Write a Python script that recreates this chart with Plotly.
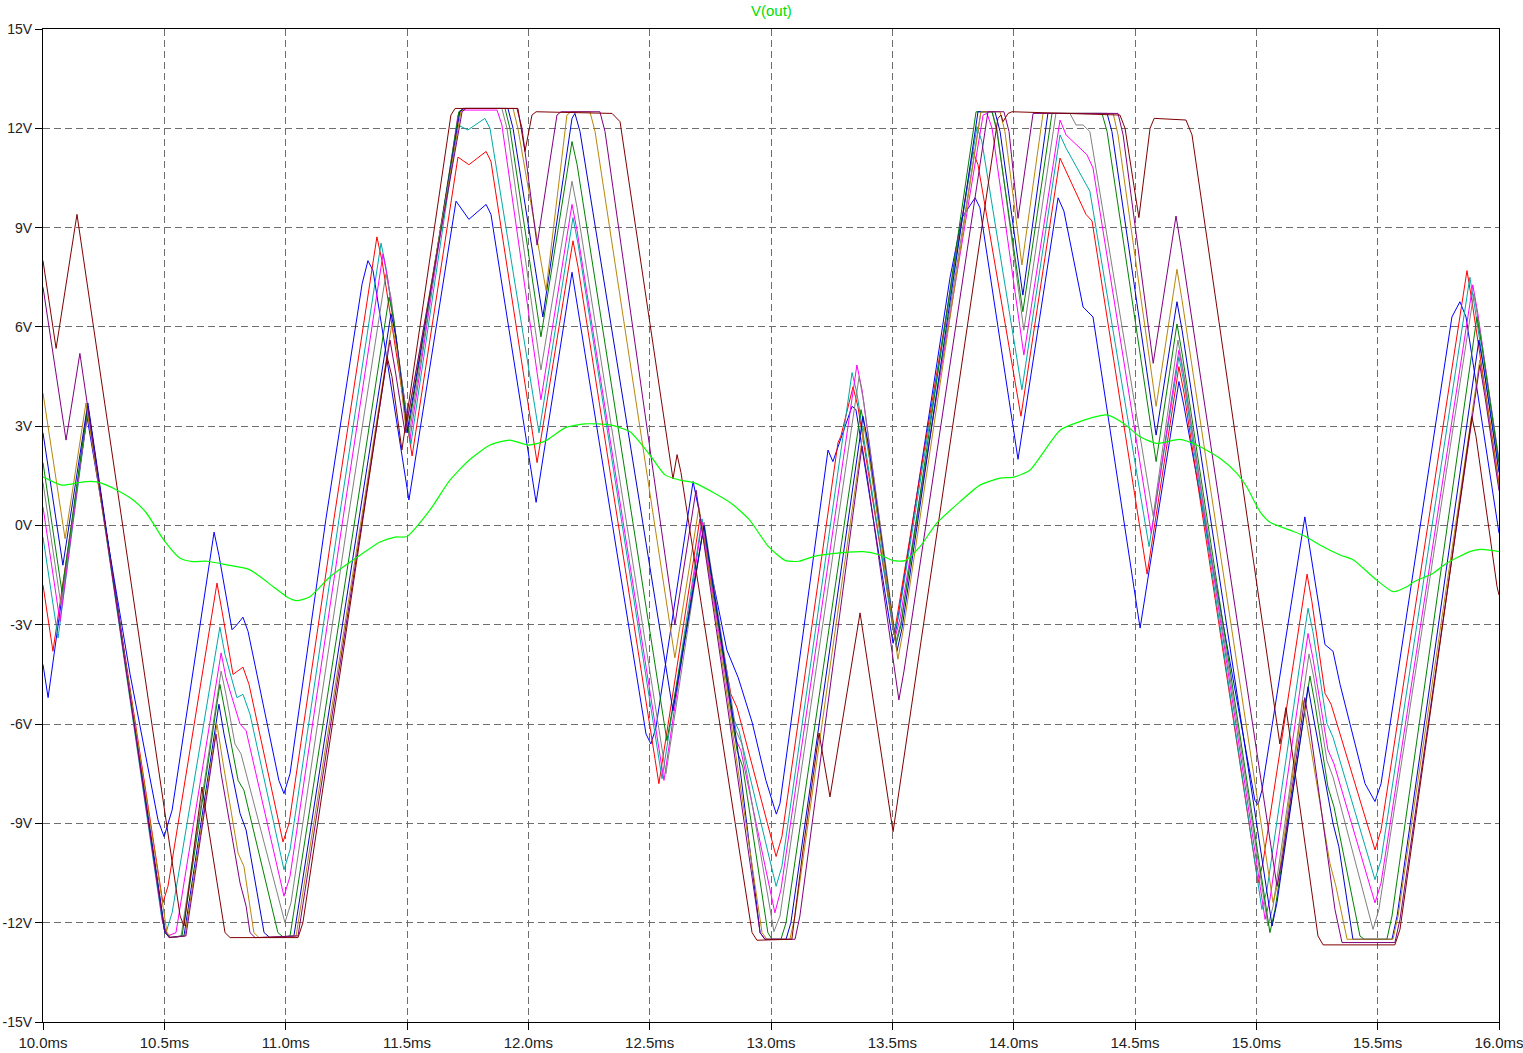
import plotly.graph_objects as go

# ---------------- data (time in ms, voltage in V) ----------------
t_vout = [10.000, 10.077, 10.166, 10.221, 10.262, 10.317, 10.372, 10.427, 10.496, 10.565, 10.619, 10.675, 10.757, 10.853,
          10.949, 11.004, 11.045, 11.100, 11.183, 11.306, 11.389, 11.451, 11.500, 11.595, 11.677, 11.760, 11.842, 11.924,
          12.000, 12.069, 12.151, 12.233, 12.337, 12.419, 12.501, 12.563, 12.625, 12.687, 12.830, 12.909, 12.990, 13.060,
          13.115, 13.174, 13.243, 13.380, 13.449, 13.504, 13.552, 13.614, 13.683, 13.779, 13.861, 13.944, 14.000, 14.067,
          14.129, 14.191, 14.273, 14.383, 14.452, 14.521, 14.589, 14.685, 14.754, 14.850, 14.919, 14.960, 15.015, 15.056,
          15.139, 15.200, 15.262, 15.345, 15.400, 15.496, 15.564, 15.620, 15.650, 15.729, 15.784, 15.880, 15.921, 15.976, 16.000]
v_vout = [1.47, 1.22, 1.32, 1.32, 1.22, 1.02, 0.77, 0.37, -0.42, -0.99, -1.09, -1.08, -1.19, -1.34,
          -1.85, -2.15, -2.27, -2.15, -1.55, -0.90, -0.50, -0.35, -0.33, 0.47, 1.37, 2.00, 2.43, 2.58,
          2.43, 2.55, 2.95, 3.07, 3.04, 2.83, 2.13, 1.53, 1.37, 1.28, 0.70, 0.19, -0.64, -1.06,
          -1.08, -0.94, -0.86, -0.79, -0.89, -1.06, -1.06, -0.64, 0.07, 0.72, 1.22, 1.43, 1.46, 1.67,
          2.28, 2.88, 3.14, 3.34, 3.09, 2.68, 2.48, 2.60, 2.43, 2.03, 1.58, 1.17, 0.42, 0.10,
          -0.14, -0.32, -0.59, -0.89, -1.04, -1.65, -2.00, -1.85, -1.70, -1.44, -1.14, -0.79, -0.72, -0.76, -0.79]

t_blue1 = [10.000, 10.021, 10.181, 10.359, 10.474, 10.499, 10.532, 10.705, 10.725, 10.779, 10.799, 10.824, 10.845, 10.972,
           10.993, 11.018, 11.166, 11.315, 11.339, 11.360, 11.508, 11.702, 11.755, 11.826, 11.846, 12.032, 12.180, 12.485,
           12.505, 12.526, 12.679, 12.818, 12.865, 12.922, 12.979, 13.022, 13.037, 13.235, 13.255, 13.334, 13.350, 13.503,
           13.519, 13.738, 13.787, 13.841, 13.861, 14.018, 14.183, 14.207, 14.286, 14.327, 14.521, 14.681, 14.702, 14.994,
           15.007, 15.023, 15.200, 15.283, 15.316, 15.345, 15.448, 15.489, 15.514, 15.806, 15.839, 15.864, 16.000]
v_blue1 = [-4.2, -5.2, 3.3, -4.5, -8.9, -9.4, -8.6, -0.2, -0.9, -3.15, -3.0, -2.77, -3.2, -7.7,
           -8.1, -7.5, 0.2, 7.3, 8.0, 7.7, 0.77, 9.8, 9.25, 9.7, 9.4, 0.7, 7.65, -6.3,
           -6.6, -6.1, 1.33, -3.76, -4.6, -5.94, -7.7, -8.72, -8.4, 2.28, 1.93, 3.6, 3.5, -3.56,
           -3.0, 7.5, 9.3, 9.9, 9.6, 2.0, 9.9, 9.5, 6.6, 6.3, -3.1, 4.35, 3.6, -8.3,
           -8.44, -8.0, 0.26, -3.6, -3.8, -4.8, -7.8, -8.34, -7.8, 6.3, 6.76, 6.3, -0.23]

t_red = [10.000, 10.041, 10.185, 10.494, 10.515, 10.717, 10.738, 10.783, 10.824, 10.849, 10.989, 11.014, 11.199, 11.376,
         11.397, 11.521, 11.710, 11.755, 11.826, 11.846, 12.036, 12.184, 12.205, 12.538, 12.707, 12.835, 12.860, 13.021,
         13.045, 13.276, 13.288, 13.338, 13.358, 13.507, 13.523, 13.832, 13.853, 14.030, 14.191, 14.216, 14.298, 14.323,
         14.550, 14.681, 14.702, 15.007, 15.027, 15.209, 15.229, 15.283, 15.308, 15.489, 15.514, 15.868, 15.888, 16.000]
v_red = [-1.8, -3.8, 3.4, -11.4, -10.9, -1.74, -2.6, -4.5, -4.28, -4.8, -9.56, -9.0, 0.2, 8.72,
         8.0, 2.1, 11.13, 10.9, 11.3, 11.0, 1.9, 8.6, 7.8, -7.8, 0.2, -5.1, -5.5, -10.0,
         -9.4, 2.5, 2.7, 4.19, 3.6, -3.3, -2.6, 11.3, 10.9, 3.3, 11.1, 10.7, 9.4, 9.2,
         -1.47, 4.8, 4.0, -10.8, -10.2, -1.47, -2.3, -5.07, -5.4, -9.8, -9.2, 7.7, 6.8, 1.3]

t_teal = [10.000, 10.062, 10.185, 10.490, 10.507, 10.532, 10.729, 10.750, 10.799, 10.824, 10.853, 10.993, 11.018, 11.220,
          11.393, 11.413, 11.516, 11.710, 11.751, 11.821, 11.842, 12.044, 12.184, 12.205, 12.551, 12.716, 12.843, 12.868,
          13.021, 13.045, 13.334, 13.354, 13.507, 13.527, 13.849, 13.869, 14.034, 14.191, 14.216, 14.286, 14.314, 14.558,
          14.681, 14.702, 15.023, 15.044, 15.213, 15.233, 15.291, 15.316, 15.489, 15.514, 15.880, 15.900, 16.000]
v_teal = [-0.35, -3.4, 3.5, -11.9, -12.3, -11.7, -3.07, -3.9, -5.2, -5.1, -5.7, -10.4, -9.8, 0.2,
          8.53, 7.8, 2.45, 12.1, 11.95, 12.3, 12.0, 2.8, 9.3, 8.5, -7.65, 0.2, -5.8, -6.2,
          -10.9, -10.3, 4.62, 4.0, -3.3, -2.7, 12.05, 11.6, 4.1, 11.8, 11.4, 10.5, 10.1, -0.64,
          5.1, 4.3, -11.6, -11.0, -2.5, -3.2, -5.98, -6.4, -10.7, -10.1, 7.5, 6.6, 1.7]

t_magenta = [10.000, 10.070, 10.185, 10.494, 10.515, 10.548, 10.734, 10.754, 10.812, 10.837, 10.993, 11.018, 11.236, 11.401,
             11.422, 11.512, 11.710, 11.727, 11.871, 11.891, 12.052, 12.180, 12.201, 12.559, 12.716, 12.851, 12.876, 13.016,
             13.041, 13.354, 13.375, 13.511, 13.532, 13.874, 13.890, 13.911, 14.042, 14.191, 14.216, 14.302, 14.327, 14.567,
             14.681, 14.702, 15.036, 15.056, 15.213, 15.233, 15.295, 15.320, 15.489, 15.514, 15.892, 15.913, 16.000]
v_magenta = [0.56, -2.9, 3.6, -12.0, -12.4, -12.3, -3.85, -4.6, -6.0, -6.2, -11.2, -10.6, 0.2, 8.2,
             7.4, 2.6, 12.4, 12.55, 12.55, 12.1, 3.8, 9.7, 8.9, -7.7, 0.1, -6.4, -6.8, -11.7,
             -11.0, 4.85, 4.1, -3.4, -2.8, 12.4, 12.45, 12.0, 5.15, 12.25, 11.8, 11.2, 10.8, -0.24,
             5.3, 4.5, -11.9, -11.3, -3.26, -4.0, -6.78, -7.2, -11.4, -10.8, 7.27, 6.4, 1.9]

t_gray = [10.000, 10.074, 10.185, 10.499, 10.523, 10.569, 10.734, 10.754, 10.791, 10.816, 10.997, 11.022, 11.257, 11.413,
          11.434, 11.508, 11.714, 11.731, 11.891, 11.912, 12.052, 12.180, 12.201, 12.567, 12.724, 12.856, 12.880, 13.012,
          13.037, 13.363, 13.383, 13.515, 13.536, 13.865, 13.911, 13.931, 14.042, 14.174, 14.232, 14.257, 14.286, 14.314,
          14.575, 14.677, 14.698, 15.048, 15.069, 15.217, 15.237, 15.291, 15.316, 15.481, 15.505, 15.896, 15.917, 16.000]
v_gray = [1.3, -2.4, 3.6, -12.2, -12.45, -12.4, -4.4, -5.1, -6.6, -6.9, -12.0, -11.4, 0.2, 7.6,
          6.9, 2.7, 12.5, 12.6, 12.6, 12.0, 4.7, 10.4, 9.6, -7.5, 0.1, -6.2, -6.6, -12.27,
          -11.8, 4.5, 3.7, -3.5, -2.9, 12.5, 12.5, 12.0, 5.9, 12.45, 12.45, 12.1, 12.1, 11.9,
          0.29, 5.6, 4.7, -12.1, -11.5, -3.88, -4.6, -7.1, -7.6, -12.2, -11.6, 7.0, 6.1, 2.0]

t_dgreen = [10.000, 10.078, 10.185, 10.503, 10.523, 10.573, 10.729, 10.750, 10.804, 10.828, 10.968, 10.993, 11.018, 11.286,
            11.426, 11.446, 11.504, 11.714, 11.731, 11.904, 11.924, 12.052, 12.180, 12.201, 12.571, 12.724, 12.860, 12.884,
            12.987, 13.004, 13.041, 13.062, 13.371, 13.391, 13.515, 13.536, 13.845, 13.911, 13.931, 14.038, 14.158, 14.364,
            14.385, 14.587, 14.673, 14.694, 15.056, 15.077, 15.221, 15.242, 15.295, 15.320, 15.427, 15.444, 15.538, 15.559,
            15.909, 15.930, 16.000]
v_dgreen = [1.9, -2.0, 3.6, -12.3, -12.45, -12.4, -4.8, -5.6, -7.7, -8.0, -12.3, -12.45, -12.4, 0.2,
            6.9, 6.2, 2.8, 12.5, 12.6, 12.6, 12.0, 5.7, 11.6, 10.9, -6.5, 0.0, -6.8, -7.3,
            -12.3, -12.5, -12.5, -12.0, 3.5, 2.8, -3.6, -3.0, 12.5, 12.5, 11.9, 6.46, 12.45, 12.45,
            11.9, 1.93, 6.09, 5.2, -12.3, -11.6, -4.55, -5.4, -7.9, -8.5, -12.4, -12.5, -12.5, -11.8,
            6.3, 5.4, 1.9]

t_blue2 = [10.000, 10.082, 10.185, 10.503, 10.523, 10.581, 10.725, 10.746, 10.812, 10.837, 10.911, 10.935, 11.034, 11.302,
           11.434, 11.455, 11.500, 11.718, 11.735, 11.916, 11.937, 12.060, 12.180, 12.192, 12.213, 12.596, 12.724, 12.860,
           12.955, 12.975, 13.062, 13.082, 13.379, 13.400, 13.519, 13.540, 13.853, 13.923, 13.944, 14.038, 14.141, 14.385,
           14.405, 14.587, 14.673, 14.694, 15.065, 15.085, 15.213, 15.233, 15.316, 15.340, 15.398, 15.559, 15.580, 15.917,
           15.938, 16.000]
v_blue2 = [2.8, -1.2, 3.7, -12.3, -12.45, -12.4, -5.4, -6.3, -8.7, -9.2, -12.3, -12.45, -12.4, 0.2,
           6.4, 5.7, 2.8, 12.5, 12.6, 12.6, 12.0, 6.3, 12.3, 12.45, 11.9, -5.6, 0.0, -6.6,
           -12.3, -12.5, -12.5, -12.0, 3.3, 2.5, -3.8, -3.1, 12.5, 12.5, 11.9, 6.96, 12.45, 12.45,
           11.9, 2.73, 6.76, 5.9, -12.1, -11.4, -4.87, -5.7, -9.0, -9.7, -12.5, -12.5, -11.8, 5.6,
           4.7, 1.6]

t_olive = [10.000, 10.091, 10.177, 10.511, 10.532, 10.585, 10.717, 10.738, 10.804, 10.828, 10.869, 10.890, 11.043, 11.310,
           11.438, 11.459, 11.496, 11.722, 11.739, 11.937, 11.957, 12.073, 12.159, 12.176, 12.254, 12.275, 12.604, 12.703,
           12.724, 12.963, 12.983, 13.078, 13.099, 13.383, 13.404, 13.523, 13.544, 13.865, 13.944, 13.964, 14.034, 14.121,
           14.410, 14.430, 14.587, 14.673, 14.694, 15.069, 15.089, 15.192, 15.213, 15.303, 15.328, 15.374, 15.563, 15.584,
           15.921, 15.942, 16.000]
v_olive = [4.0, -0.4, 3.7, -12.3, -12.45, -12.4, -6.0, -7.0, -9.9, -10.3, -12.3, -12.45, -12.4, 0.2,
           6.1, 5.3, 2.9, 12.5, 12.6, 12.6, 12.0, 7.1, 12.4, 12.5, 12.5, 11.9, -4.0, 0.55,
           -0.4, -12.3, -12.5, -12.5, -11.8, 3.0, 2.1, -4.04, -3.2, 12.5, 12.5, 11.9, 7.87, 12.45,
           12.45, 11.8, 3.6, 7.74, 6.8, -11.4, -10.8, -5.27, -6.2, -10.2, -10.9, -12.5, -12.5, -11.8,
           5.0, 4.1, 1.2]

t_purple = [10.000, 10.095, 10.152, 10.499, 10.519, 10.589, 10.713, 10.734, 10.812, 10.837, 10.853, 10.874, 11.051, 11.315,
            11.430, 11.451, 11.492, 11.727, 11.743, 11.953, 11.974, 12.036, 12.118, 12.135, 12.295, 12.316, 12.604, 12.691,
            12.711, 12.955, 12.975, 13.099, 13.119, 13.375, 13.396, 13.527, 13.548, 13.894, 13.960, 13.981, 14.018, 14.080,
            14.430, 14.451, 14.575, 14.669, 14.690, 15.085, 15.106, 15.200, 15.221, 15.324, 15.353, 15.571, 15.592, 15.921,
            15.942, 16.000]
v_purple = [7.2, 2.58, 5.2, -12.2, -12.45, -12.4, -6.3, -7.5, -10.8, -11.5, -12.3, -12.45, -12.4, 0.2,
            5.6, 4.7, 2.8, 12.5, 12.6, 12.6, 12.0, 8.47, 12.4, 12.5, 12.5, 11.9, -3.0, 1.07,
            0.1, -12.3, -12.5, -12.5, -11.8, 2.4, 1.5, -5.27, -4.4, 12.5, 12.5, 11.9, 9.28, 12.45,
            12.45, 11.8, 4.9, 9.35, 8.4, -10.9, -10.1, -5.2, -6.1, -11.6, -12.6, -12.6, -11.9, 4.85,
            3.9, 1.05]

t_brown = [10.000, 10.054, 10.140, 10.565, 10.581, 10.655, 10.750, 10.771, 11.051, 11.071, 11.418, 11.438, 11.479, 11.681,
           11.698, 11.957, 11.986, 12.015, 12.032, 12.345, 12.378, 12.596, 12.613, 12.629, 12.922, 12.942, 13.086, 13.132,
           13.198, 13.243, 13.367, 13.503, 13.935, 13.948, 13.956, 13.977, 13.993, 14.438, 14.459, 14.516, 14.562, 14.579,
           14.710, 14.735, 15.097, 15.122, 15.254, 15.275, 15.571, 15.592, 15.888, 15.905, 15.992, 16.000]
v_brown = [8.0, 5.35, 9.4, -11.8, -12.1, -7.9, -12.3, -12.45, -12.45, -12.0, 5.1, 4.5, 2.28, 12.4,
           12.6, 12.6, 11.3, 12.4, 12.5, 12.45, 12.2, 1.41, 2.14, 1.6, -12.3, -12.53, -12.5, -9.8,
           -6.27, -8.2, -2.64, -9.25, 12.3, 12.4, 12.2, 12.45, 12.5, 12.4, 12.0, 9.3, 12.0, 12.3,
           12.25, 11.8, -6.6, -5.5, -12.4, -12.67, -12.67, -12.2, 3.29, 2.7, -1.85, -2.1]

x_ticks = [10.0, 10.5, 11.0, 11.5, 12.0, 12.5, 13.0, 13.5, 14.0, 14.5, 15.0, 15.5, 16.0]
x_labels = ["10.0ms", "10.5ms", "11.0ms", "11.5ms", "12.0ms", "12.5ms", "13.0ms",
            "13.5ms", "14.0ms", "14.5ms", "15.0ms", "15.5ms", "16.0ms"]
y_ticks = [-15, -12, -9, -6, -3, 0, 3, 6, 9, 12, 15]
y_labels = ["-15V", "-12V", "-9V", "-6V", "-3V", "0V", "3V", "6V", "9V", "12V", "15V"]

# ---------------- figure ----------------
series = [
    (t_blue1, v_blue1, "#0000ff"),
    (t_red, v_red, "#ff0000"),
    (t_teal, v_teal, "#00a8a8"),
    (t_magenta, v_magenta, "#ff00ff"),
    (t_gray, v_gray, "#808080"),
    (t_dgreen, v_dgreen, "#008000"),
    (t_blue2, v_blue2, "#0000d0"),
    (t_olive, v_olive, "#b8860b"),
    (t_purple, v_purple, "#800080"),
    (t_brown, v_brown, "#800000"),
]

fig = go.Figure()
for tx, vy, col in series:
    fig.add_trace(go.Scatter(x=tx, y=vy, mode="lines", line=dict(color=col, width=1),
                             showlegend=False, hoverinfo="skip"))
fig.add_trace(go.Scatter(x=t_vout, y=v_vout, mode="lines",
                         line=dict(color="#00ff00", width=1.2, shape="spline", smoothing=0.6),
                         showlegend=False, hoverinfo="skip"))

x_font = dict(family="Liberation Sans, Arial, sans-serif", size=15, color="#222222")
y_font = dict(family="Liberation Sans, Arial, sans-serif", size=14, color="#222222")
fig.update_layout(
    width=1523, height=1053,
    margin=dict(l=43, r=24, t=29, b=31, autoexpand=False),
    paper_bgcolor="white", plot_bgcolor="white",
    showlegend=False,
    xaxis=dict(range=[10.0, 16.0], tickmode="array", tickvals=x_ticks, ticktext=x_labels,
               showgrid=True, gridcolor="#6e6e6e", gridwidth=1, griddash="7px,4px",
               showline=True, linecolor="black", linewidth=1.2, mirror=True, automargin=False,
               ticklabeloverflow="allow",
               ticks="outside", ticklen=7, tickcolor="black", tickfont=x_font, zeroline=False),
    yaxis=dict(range=[-15, 15], tickmode="array", tickvals=y_ticks, ticktext=y_labels,
               showgrid=True, gridcolor="#6e6e6e", gridwidth=1, griddash="7px,4px",
               showline=True, linecolor="black", linewidth=1.2, mirror=True, automargin=False,
               ticklabeloverflow="allow",
               ticks="outside", ticklen=7, tickcolor="black", tickfont=y_font, zeroline=False),
    annotations=[dict(text="V(out)", xref="paper", yref="paper", x=0.5, y=1.0, yshift=19,
                      showarrow=False, xanchor="center", yanchor="middle",
                      font=dict(family="Liberation Sans, Arial, sans-serif", size=15, color="#00dd00"))],
)

fig.write_html("out.html", config={"displayModeBar": False},
               post_script="document.body.style.margin='0';document.body.style.padding='0';")
